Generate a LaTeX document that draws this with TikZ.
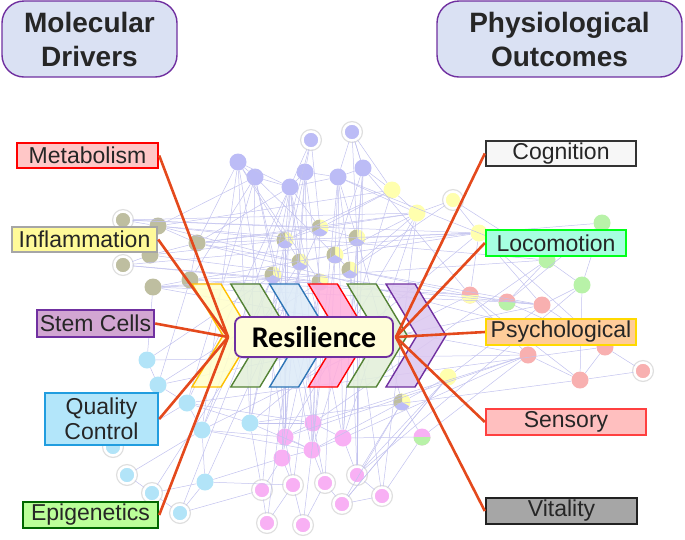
\documentclass[tikz,border=0pt]{standalone}
\usepackage{fontspec}
\setmainfont{Liberation Sans}
\newfontfamily\calfont{Carlito}
\usepackage{tikz}
\usetikzlibrary{positioning, calc}

\definecolor{txt}{HTML}{262626}
\definecolor{titlefill}{HTML}{DAE1F3}
\definecolor{titleedge}{HTML}{7030A0}
\definecolor{link}{HTML}{E4491C}
\definecolor{netedge}{HTML}{C2C2EE}
\definecolor{netlv}{HTML}{BCBCF6}
\definecolor{netol}{HTML}{BEBEA0}
\definecolor{netyl}{HTML}{FFFFAE}
\definecolor{netgr}{HTML}{B8F2A8}
\definecolor{netsl}{HTML}{F8B0B0}
\definecolor{netlb}{HTML}{B2E4F8}
\definecolor{netmg}{HTML}{F8B0F4}
\definecolor{resfill}{HTML}{FFFDD8}

\tikzset{
  dot/.style={circle, fill=#1, minimum size=17pt, inner sep=0pt},
  ringdot/.style={dot=#1, draw=white, line width=2.5pt,
    preaction={draw=black!13, line width=5pt}},
  tripie/.style={dot=netyl, path picture={
    \fill[netol] (path picture bounding box.center) -- +(90:30pt) -- +(150:30pt) -- +(210:30pt) -- cycle;
    \fill[netlv] (path picture bounding box.center) -- +(210:30pt) -- +(270:30pt) -- +(330:30pt) -- cycle;}},
  halfpie/.style 2 args={dot=#1, path picture={
    \fill[#2] (path picture bounding box.center) -- +(180:30pt) -- +(270:30pt) -- +(0:30pt) -- cycle;}},
  netline/.style={draw=netedge, line width=0.5pt},
  titlebox/.style={draw=titleedge, fill=titlefill, line width=1.4pt,
    rounded corners=22pt, align=center, text=txt,
    font=\fontsize{28}{34}\selectfont\bfseries},
  lbl/.style 2 args={draw=#1, fill=#2, line width=2.4pt, inner sep=0pt,
    align=center, text=txt, font=\fontsize{23}{25}\selectfont},
  link/.style={draw=link, line width=2.6pt}
}

\begin{document}
\begin{tikzpicture}[x=1pt, y=-1pt]
  \useasboundingbox (0,0) rectangle (685,539);

  % background network
  \node[dot=netlv] (a1) at (238,162) {};
  \node[dot=netlv] (a2) at (255,177) {};
  \node[dot=netlv] (a3) at (290,187) {};
  \node[dot=netlv] (a4) at (305,172) {};
  \node[dot=netlv] (a5) at (338,177) {};
  \node[dot=netlv] (a6) at (363,168) {};
  \node[ringdot=netlv] (a7) at (311,140) {};
  \node[ringdot=netlv] (a8) at (352,132) {};

  \node[ringdot=netol] (b1) at (123,220) {};
  \node[dot=netol] (b2) at (158,226) {};
  \node[dot=netol] (b3) at (197,243) {};
  \node[ringdot=netol] (b4) at (123,265) {};
  \node[dot=netol] (b5) at (153,287) {};
  \node[dot=netol] (b6) at (190,280) {};
  \node[dot=netol] (b7) at (150,255) {};

  \node[tripie] (c1) at (285,240) {};
  \node[tripie] (c2) at (320,228) {};
  \node[tripie] (c3) at (357,238) {};
  \node[tripie] (c4) at (300,262) {};
  \node[tripie] (c5) at (335,255) {};
  \node[tripie] (c6) at (350,270) {};
  \node[tripie] (c7) at (273,275) {};
  \node[tripie] (c8) at (320,282) {};

  \node[dot=netyl] (d1) at (392,190) {};
  \node[dot=netyl] (d2) at (417,213) {};
  \node[ringdot=netyl] (d3) at (453,200) {};
  \node[dot=netyl] (d4) at (479,233) {};
  \node[dot=netyl] (d5) at (448,377) {};

  \node[dot=netgr] (e1) at (602,223) {};
  \node[dot=netgr] (e2) at (547,260) {};
  \node[dot=netgr] (e3) at (582,285) {};

  \node[halfpie={netsl}{netyl}] (f1) at (470,295) {};
  \node[halfpie={netsl}{netgr}] (f2) at (507,302) {};
  \node[tripie] (f3) at (402,402) {};
  \node[halfpie={netmg}{netgr}] (f4) at (422,437) {};

  \node[dot=netsl] (g1) at (542,305) {};
  \node[dot=netsl] (g2) at (528,355) {};
  \node[dot=netsl] (g3) at (580,380) {};
  \node[ringdot=netsl] (g4) at (643,371) {};
  \node[dot=netsl] (g5) at (605,347) {};

  \node[dot=netlb] (h1) at (147,360) {};
  \node[dot=netlb] (h2) at (158,385) {};
  \node[dot=netlb] (h3) at (187,403) {};
  \node[dot=netlb] (h4) at (202,430) {};
  \node[dot=netlb] (h5) at (250,423) {};
  \node[dot=netlb] (h6) at (205,482) {};
  \node[ringdot=netlb] (h7) at (127,475) {};
  \node[ringdot=netlb] (h8) at (152,493) {};
  \node[ringdot=netlb] (h9) at (180,513) {};
  \node[ringdot=netlb] (h10) at (113,447) {};

  \node[dot=netmg] (i1) at (313,423) {};
  \node[dot=netmg] (i2) at (285,437) {};
  \node[dot=netmg] (i3) at (343,438) {};
  \node[dot=netmg] (i4) at (312,450) {};
  \node[dot=netmg] (i5) at (282,458) {};
  \node[ringdot=netmg] (i6) at (262,490) {};
  \node[ringdot=netmg] (i7) at (293,485) {};
  \node[ringdot=netmg] (i8) at (325,483) {};
  \node[ringdot=netmg] (i9) at (357,475) {};
  \node[ringdot=netmg] (i10) at (382,496) {};
  \node[ringdot=netmg] (i11) at (342,504) {};
  \node[ringdot=netmg] (i12) at (267,523) {};
  \node[ringdot=netmg] (i13) at (303,525) {};

  \foreach \u/\v in {a1/a2, a2/a3, a3/a4, a4/a5, a5/a6, a4/a7, a5/a8, a6/a8, a1/a3, a3/a5,
      a3/c1, a3/c4, a3/c7, a3/c2, a3/b3, a3/h3, a3/i1, a3/i5, a5/c3, a5/c5, a5/c6,
      a5/d2, a5/i3, a5/e2, a2/b2, a2/b6, a2/h5, a1/b3, a1/h4, a6/d1, a6/c3, a6/i9,
      a4/c8, a4/i4, a1/i2, a2/i4, a4/h5, a6/f1, a7/c2, a8/d1,
      b1/b2, b2/b3, b4/b7, b7/b3, b5/b6, b6/b3, b2/c1, b3/c4, b6/c7, b3/d2, b2/e2,
      c1/c2, c2/c3, c4/c5, c5/c6, c7/c8, c1/i2, c2/i1, c3/i3, c6/f1, c8/i4,
      d1/d2, d2/d3, d3/d4, d4/e1, d4/e2, d4/f1, d1/c1, d2/c5, d4/c3, d4/b3, d4/h5,
      d5/g1, d5/f3, d2/i3, d3/c6,
      e1/e3, e2/e3, e3/g1, e2/f2, e1/f2,
      f1/f2, f2/g1, g1/g5, g5/g4, g2/g3, g3/g4, g2/f1, g5/g3, f3/f4, f4/i10, g2/f4,
      h1/h2, h2/h3, h3/h4, h4/h6, h6/h8, h7/h8, h8/h9, h6/h9, h3/h5, h1/b5, h2/b6,
      h4/i2, h5/i1, h6/i5, h10/h3, h7/h4,
      i1/i2, i1/i3, i2/i4, i3/i4, i4/i5, i5/i6, i5/i7, i4/i8, i3/i9, i9/i10, i8/i11,
      i6/i12, i7/i13, i2/i7, i1/i8, i11/i10, i13/i8, i12/i7,
      b1/d4, b2/d1, b4/g1, b5/e2, h1/g2, h3/g5, h4/f1, i12/c4, i13/c5, i10/c6,
      i11/d5, h9/c7, h6/c2, b7/g1, b3/g5, e3/i9, e2/i1, g1/h2, g2/i2, h5/g3,
      i6/c1, i9/c3, i10/d2, h8/c4, b4/c8, b5/f2,
      a1/c4, a1/c8, a2/c5, a2/i1, a3/i3, a4/c4, a4/i2, a5/i4, a6/c5, a6/i3,
      a2/h3, a1/h5, a3/h4, a7/c1, a8/c3, a7/a3, a8/a6,
      b1/c2, b2/c4, b3/c2, b5/c8, b6/c5, b7/c1, b1/d2, b4/d4, b6/f1, b5/g2,
      c1/h5, c4/i5, c5/i8, c6/i9, c7/h4, c8/i7, c3/f3, c2/d2, c5/d4, c6/g1,
      d1/c2, d2/c6, d4/g1, d3/e2, d4/g5, d1/i4, d2/i2, d5/i9, d5/i11, f3/i11,
      h3/i1, h4/i4, h5/i4, h1/c7, h2/c8, h6/i7, h9/i6, h5/i6,
      i1/g2, i3/g2, i4/f3, i3/f4, i9/f3, i2/c7, i5/c8, e3/g3, f1/g3, f2/g5}
    \draw[netline] (\u) -- (\v);

  % chevrons
  \foreach \i/\ln/\fl in {0/FFC000/FFFFCC, 1/548235/E2EFDA, 2/2E75B6/DDEBF7,
      3/FF0000/FFB0DC, 4/548235/E2EFDA, 5/7030A0/DCC8F0} {
    \definecolor{chevln}{HTML}{\ln}
    \definecolor{chevfl}{HTML}{\fl}
    \pgfmathsetmacro{\cx}{192+38.8*\i}
    \filldraw[draw=chevln, fill=chevfl, fill opacity=0.88, line width=1.4pt, line join=miter]
      (\cx,284) -- ++(29,0) -- ++(31,51.5) -- ++(-31,51.5) -- ++(-29,0) -- ++(31,-51.5) -- cycle;
  }

  % headings
  \node[titlebox, minimum width=175pt, minimum height=76pt] (drv) at (89.5,39)
    {Molecular\\Drivers};
  \node[titlebox, minimum width=245pt, minimum height=76pt] (out) at (559.5,39)
    {Physiological\\Outcomes};

  % drivers
  \node[lbl={red}{red!22}, minimum width=141pt, minimum height=25pt] (met) at (87.5,155.5) {Metabolism};
  \node[lbl={black!35}{yellow!40}, minimum width=145pt, minimum height=25pt] (inf) at (84.5,239.5) {Inflammation};
  \node[lbl={titleedge}{violet!35!white}, minimum width=117pt, minimum height=27pt] (stc) at (95.5,323.5) {Stem Cells};
  \node[lbl={cyan!80!blue!90}{cyan!30}, minimum width=113pt, minimum height=52pt] (qc) at (101.5,419) {Quality\\Control};
  \node[lbl={green!40!black}{green!55!lime!40}, minimum width=135pt, minimum height=26pt] (epi) at (90.5,515) {Epigenetics};

  % outcomes
  \node[lbl={black!80}{black!3}, minimum width=150pt, minimum height=25pt] (cog) at (561,153.5) {Cognition};
  \node[lbl={green!90!cyan}{green!35!cyan!35}, minimum width=140pt, minimum height=26pt] (loc) at (556,243) {Locomotion};
  \node[lbl={orange!30!yellow}{orange!40}, minimum width=150pt, minimum height=26pt] (psy) at (561,332) {Psychological};
  \node[lbl={red!75}{red!25}, minimum width=160pt, minimum height=26pt] (sen) at (566,422) {Sensory};
  \node[lbl={black!87}{black!35}, minimum width=151pt, minimum height=26pt] (vit) at (561.5,511) {Vitality};

  % centre
  \node[draw=titleedge, fill=resfill, line width=1.8pt, rounded corners=7pt,
    minimum width=158pt, minimum height=40pt, inner sep=0pt,
    font=\calfont\fontsize{30}{30}\selectfont\bfseries] (res) at (314,337) {Resilience};
  \coordinate (hubL) at ([xshift=-6pt]res.west);
  \coordinate (hubR) at ([xshift=2pt]res.east);

  \foreach \s in {met, inf, stc, qc, epi}
    \draw[link] (\s.east) -- (hubL);
  \foreach \t in {cog, loc, psy, sen, vit}
    \draw[link] (hubR) -- (\t.west);
\end{tikzpicture}
\end{document}
